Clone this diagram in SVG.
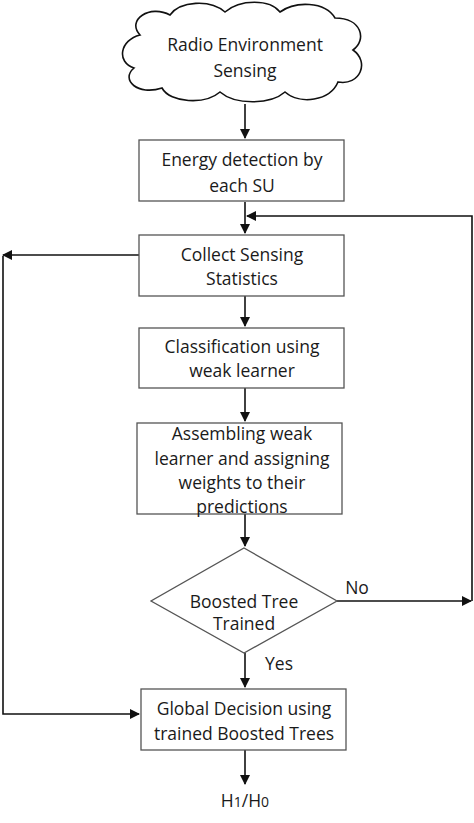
<svg xmlns="http://www.w3.org/2000/svg" width="474" height="823" viewBox="0 0 474 823">
<style>
.box{fill:#fff;stroke:#555;stroke-width:1.3}
.cloud{fill:#fff;stroke:#111;stroke-width:1.6}
.t{font-family:"Open Sans","Liberation Sans",sans-serif;font-size:17.5px;fill:#1a1a1a;text-anchor:middle}
.c{fill:none;stroke:#111;stroke-width:1.6}
</style>
<defs>
<marker id="ah" markerWidth="10" markerHeight="10" refX="9" refY="5" orient="auto" markerUnits="userSpaceOnUse">
<path d="M0,0 L10,5 L0,10 Z" fill="#111"/>
</marker>
</defs>
<rect width="474" height="823" fill="#fff"/>
<g id="connectors">
<path class="c" d="M245,104 V138" marker-end="url(#ah)"/>
<path class="c" d="M245,202 V233" marker-end="url(#ah)"/>
<path class="c" d="M472,601 V216 H247" marker-end="url(#ah)"/>
<path class="c" d="M139,255 H3" marker-end="url(#ah)"/>
<path class="c" d="M3,256 V714 H139" marker-end="url(#ah)"/>
<path class="c" d="M245,296 V326" marker-end="url(#ah)"/>
<path class="c" d="M245,388 V421" marker-end="url(#ah)"/>
<path class="c" d="M245,514 V546" marker-end="url(#ah)"/>
<path class="c" d="M337,601 H471" marker-end="url(#ah)"/>
<path class="c" d="M245,653 V687" marker-end="url(#ah)"/>
<path class="c" d="M245,750 V784" marker-end="url(#ah)"/>
<text class="t" x="357" y="594">No</text>
<text class="t" x="279" y="670">Yes</text>
</g>
<g id="n_cloud">
<path class="cloud" d="M140,35 C126,20 150,4 170,15 C180,1 210,-1 225,12 C240,-1 270,-1 280,12 C295,1 325,1 335,18 C362,18 367,40 353,50 C370,62 360,86 338,82 C330,101 300,105 285,92 C270,105 235,105 220,92 C205,105 170,103 162,88 C138,96 120,80 134,68 C116,62 120,40 140,35 Z"/>
<text class="t" x="245" y="51">Radio Environment</text>
<text class="t" x="245" y="77">Sensing</text>
</g>
<g id="n_energy">
<rect class="box" x="139" y="140" width="205" height="61"/>
<text class="t" x="242" y="166">Energy detection by</text>
<text class="t" x="242" y="192">each SU</text>
</g>
<g id="n_collect">
<rect class="box" x="139" y="235" width="205" height="61"/>
<text class="t" x="242" y="261">Collect Sensing</text>
<text class="t" x="242" y="285">Statistics</text>
</g>
<g id="n_classify">
<rect class="box" x="139" y="328" width="205" height="60"/>
<text class="t" x="242" y="353">Classification using</text>
<text class="t" x="242" y="377">weak learner</text>
</g>
<g id="n_assemble">
<rect class="box" x="137" y="423" width="205" height="91"/>
<text class="t" x="242" y="440">Assembling weak</text>
<text class="t" x="242" y="465">learner and assigning</text>
<text class="t" x="242" y="489">weights to their</text>
<text class="t" x="242" y="513">predictions</text>
</g>
<g id="n_decision">
<path class="box" d="M244,548 L337,601 L244,653 L151,601 Z"/>
<text class="t" x="244" y="608">Boosted Tree</text>
<text class="t" x="244" y="630">Trained</text>
</g>
<g id="n_global">
<rect class="box" x="141" y="689" width="205" height="61"/>
<text class="t" x="244" y="715">Global Decision using</text>
<text class="t" x="244" y="740">trained Boosted Trees</text>
</g>
<g id="n_out">
<text class="t" x="245" y="807">H<tspan font-size="14px">1</tspan>/H<tspan font-size="14px">0</tspan></text>
</g>
</svg>
